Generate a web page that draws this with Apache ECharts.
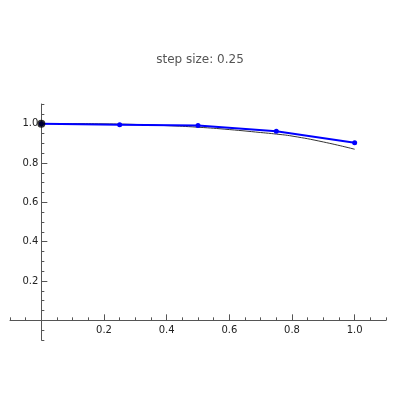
<!DOCTYPE html>
<html>
<head>
<meta charset="utf-8">
<script src="https://cdn.jsdelivr.net/npm/echarts@6/dist/echarts.min.js"></script>
<style>
    html, body { margin: 0; padding: 0; background: #fff; }
    #main { width: 400px; height: 400px; }
</style>
</head>
<body>
<div id="main"></div>
<script>
// values
var titleText = 'step size: 0.25';
var stepX = [0, 0.25, 0.5, 0.75, 1.0];
var stepY = [1.0, 0.995, 0.991, 0.961, 0.903];
var exactX = [0, 0.1, 0.2, 0.3, 0.4, 0.5, 0.6, 0.7, 0.75, 0.8, 0.9, 1.0];
var exactY = [1.0, 1.0, 0.999, 0.996, 0.99, 0.982, 0.970, 0.955, 0.947, 0.937, 0.907, 0.87];
var startPoint = [0, 1.0];
var tickLabels = [0.2, 0.4, 0.6, 0.8, 1.0];
var axisMin = -0.1, axisMax = 1.1;

function pairs(xs, ys) {
    return xs.map(function (x, i) {
        return [x, ys[i]];
    });
}

var font = 'DejaVu Sans';
var axisColor = '#555';
var W = 400, H = 400;

// outer bounds pushed past the edges so the grid is never shrunk for its labels
var box = { left: 10, right: 14, top: 104, bottom: 60, containLabel: false,
            outerBounds: { left: -60, right: -60, top: -60, bottom: -60 } };

// distance of the zero line from the grid edge, so the labelled axis sits on zero
var zeroFromLeft = (0 - axisMin) / (axisMax - axisMin) * (W - box.left - box.right);
var zeroFromBottom = (0 - axisMin) / (axisMax - axisMin) * (H - box.top - box.bottom);

// grid 0: small ticks every 0.05 on zero; grid 1 (same box): longer ticks + labels at 0.2 steps
function minorAxis(pos) {
    return {
        type: 'value',
        gridIndex: 0,
        position: pos,
        min: axisMin,
        max: axisMax,
        interval: 0.05,
        axisLine: { onZero: true, lineStyle: { color: axisColor, width: 1 } },
        axisTick: { inside: true, length: 3, lineStyle: { color: axisColor } },
        axisLabel: { show: false },
        splitLine: { show: false }
    };
}
function majorAxis(pos) {
    return {
        type: 'value',
        gridIndex: 1,
        position: pos,
        offset: pos === 'bottom' ? -zeroFromBottom : -zeroFromLeft,
        min: axisMin,
        max: axisMax,
        interval: 0.05,
        axisLine: { onZero: false, show: false },
        axisTick: { inside: true, length: 6, customValues: tickLabels, lineStyle: { color: axisColor } },
        axisLabel: {
            customValues: tickLabels,
            color: '#222',
            fontFamily: font,
            fontSize: 10,
            margin: pos === 'bottom' ? 5 : 3,
            formatter: function (v) { return v.toFixed(1); }
        },
        splitLine: { show: false }
    };
}

var chart = echarts.init(document.getElementById('main'));
var option = {
    backgroundColor: '#fff',
    animation: false,
    title: {
        text: titleText,
        left: 'center',
        top: 49,
        textStyle: { color: '#555', fontFamily: font, fontSize: 12, fontWeight: 'normal' }
    },
    grid: [box, box],
    xAxis: [minorAxis('bottom'), majorAxis('bottom')],
    yAxis: [minorAxis('left'), majorAxis('left')],
    series: [{
        type: 'line',
        data: pairs(exactX, exactY),
        smooth: true,
        showSymbol: false,
        lineStyle: { color: '#333', width: 1 },
        z: 2
    }, {
        type: 'line',
        data: pairs(stepX, stepY),
        symbol: 'circle',
        symbolSize: 5,
        itemStyle: { color: '#0000ff' },
        lineStyle: { color: '#0000ff', width: 2 },
        z: 3
    }, {
        type: 'scatter',
        xAxisIndex: 1,
        yAxisIndex: 1,
        data: [startPoint],
        symbolSize: 8,
        itemStyle: { color: '#000' },
        z: 4
    }]
};
chart.setOption(option);
</script>
</body>
</html>
